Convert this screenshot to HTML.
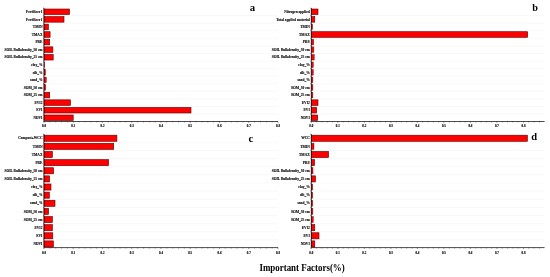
<!DOCTYPE html>
<html><head><meta charset="utf-8"><title>Important Factors</title>
<style>html,body{margin:0;padding:0;background:#fff}svg{display:block}text{font-family:"Liberation Serif",serif;font-weight:bold;fill:#000}</style></head>
<body>
<svg width="550" height="277" viewBox="0 0 550 277">
<rect width="550" height="277" fill="#fff"/>
<path d="M44.0 15.59H278.0M44.0 23.16H278.0M44.0 30.73H278.0M44.0 38.30H278.0M44.0 45.87H278.0M44.0 53.44H278.0M44.0 61.01H278.0M44.0 68.58H278.0M44.0 76.14H278.0M44.0 83.72H278.0M44.0 91.29H278.0M44.0 98.86H278.0M44.0 106.42H278.0M44.0 114.00H278.0" stroke="#f3f3f3" stroke-width="0.6" fill="none"/>
<rect x="44.0" y="9.00" width="25.6" height="5.6" fill="#ff0000" stroke="#5a0000" stroke-width="0.6"/>
<text x="42.5" y="13.00" font-size="3.56" text-anchor="end" stroke="#000" stroke-width="0.1">Fertilizer I</text>
<rect x="44.0" y="16.57" width="20.0" height="5.6" fill="#ff0000" stroke="#5a0000" stroke-width="0.6"/>
<text x="42.5" y="20.57" font-size="3.56" text-anchor="end" stroke="#000" stroke-width="0.1">Fertilizer I</text>
<rect x="44.0" y="24.14" width="4.4" height="5.6" fill="#ff0000" stroke="#5a0000" stroke-width="0.6"/>
<text x="42.5" y="28.14" font-size="3.56" text-anchor="end" stroke="#000" stroke-width="0.1">TMIN</text>
<rect x="44.0" y="31.71" width="6.1" height="5.6" fill="#ff0000" stroke="#5a0000" stroke-width="0.6"/>
<text x="42.5" y="35.71" font-size="3.56" text-anchor="end" stroke="#000" stroke-width="0.1">TMAX</text>
<rect x="44.0" y="39.28" width="5.7" height="5.6" fill="#ff0000" stroke="#5a0000" stroke-width="0.6"/>
<text x="42.5" y="43.28" font-size="3.56" text-anchor="end" stroke="#000" stroke-width="0.1">PRE</text>
<rect x="44.0" y="46.85" width="8.9" height="5.6" fill="#ff0000" stroke="#5a0000" stroke-width="0.6"/>
<text x="42.5" y="50.85" font-size="3.56" text-anchor="end" stroke="#000" stroke-width="0.1">SOIL Bulkdensity_50 cm</text>
<rect x="44.0" y="54.42" width="9.2" height="5.6" fill="#ff0000" stroke="#5a0000" stroke-width="0.6"/>
<text x="42.5" y="58.42" font-size="3.56" text-anchor="end" stroke="#000" stroke-width="0.1">SOIL Bulkdensity_25 cm</text>
<rect x="44.0" y="61.99" width="0.6" height="5.6" fill="#ff0000" stroke="#5a0000" stroke-width="0.4"/>
<text x="42.5" y="65.99" font-size="3.56" text-anchor="end" stroke="#000" stroke-width="0.1">clay_%</text>
<rect x="44.0" y="69.56" width="1.5" height="5.6" fill="#ff0000" stroke="#5a0000" stroke-width="0.4"/>
<text x="42.5" y="73.56" font-size="3.56" text-anchor="end" stroke="#000" stroke-width="0.1">silt_%</text>
<rect x="44.0" y="77.13" width="2.3" height="5.6" fill="#ff0000" stroke="#5a0000" stroke-width="0.4"/>
<text x="42.5" y="81.13" font-size="3.56" text-anchor="end" stroke="#000" stroke-width="0.1">sand_%</text>
<rect x="44.0" y="84.70" width="1.7" height="5.6" fill="#ff0000" stroke="#5a0000" stroke-width="0.4"/>
<text x="42.5" y="88.70" font-size="3.56" text-anchor="end" stroke="#000" stroke-width="0.1">SOM_50 cm</text>
<rect x="44.0" y="92.27" width="5.7" height="5.6" fill="#ff0000" stroke="#5a0000" stroke-width="0.6"/>
<text x="42.5" y="96.27" font-size="3.56" text-anchor="end" stroke="#000" stroke-width="0.1">SOM_25 cm</text>
<rect x="44.0" y="99.84" width="26.5" height="5.6" fill="#ff0000" stroke="#5a0000" stroke-width="0.6"/>
<text x="42.5" y="103.84" font-size="3.56" text-anchor="end" stroke="#000" stroke-width="0.1">EVI2</text>
<rect x="44.0" y="107.41" width="147.0" height="5.6" fill="#ff0000" stroke="#5a0000" stroke-width="0.6"/>
<text x="42.5" y="111.41" font-size="3.56" text-anchor="end" stroke="#000" stroke-width="0.1">EVI</text>
<rect x="44.0" y="114.98" width="29.2" height="5.6" fill="#ff0000" stroke="#5a0000" stroke-width="0.6"/>
<text x="42.5" y="118.98" font-size="3.56" text-anchor="end" stroke="#000" stroke-width="0.1">NDVI</text>
<path d="M44.0 8.0V121.5H278.0" stroke="#000" stroke-width="0.7" fill="none"/>
<path d="M44.00 121.5v1.3M49.85 121.5v0.9M55.70 121.5v0.9M61.55 121.5v0.9M67.40 121.5v0.9M73.25 121.5v1.3M79.10 121.5v0.9M84.95 121.5v0.9M90.80 121.5v0.9M96.65 121.5v0.9M102.50 121.5v1.3M108.35 121.5v0.9M114.20 121.5v0.9M120.05 121.5v0.9M125.90 121.5v0.9M131.75 121.5v1.3M137.60 121.5v0.9M143.45 121.5v0.9M149.30 121.5v0.9M155.15 121.5v0.9M161.00 121.5v1.3M166.85 121.5v0.9M172.70 121.5v0.9M178.55 121.5v0.9M184.40 121.5v0.9M190.25 121.5v1.3M196.10 121.5v0.9M201.95 121.5v0.9M207.80 121.5v0.9M213.65 121.5v0.9M219.50 121.5v1.3M225.35 121.5v0.9M231.20 121.5v0.9M237.05 121.5v0.9M242.90 121.5v0.9M248.75 121.5v1.3M254.60 121.5v0.9M260.45 121.5v0.9M266.30 121.5v0.9M272.15 121.5v0.9M278.00 121.5v1.3M44.0 8.02h-0.9M44.0 15.59h-0.9M44.0 23.16h-0.9M44.0 30.73h-0.9M44.0 38.30h-0.9M44.0 45.87h-0.9M44.0 53.44h-0.9M44.0 61.01h-0.9M44.0 68.58h-0.9M44.0 76.14h-0.9M44.0 83.72h-0.9M44.0 91.29h-0.9M44.0 98.86h-0.9M44.0 106.42h-0.9M44.0 114.00h-0.9M44.0 121.57h-0.9" stroke="#000" stroke-width="0.45" fill="none"/>
<text x="44.0" y="127.40" font-size="3.15" text-anchor="middle" stroke="#000" stroke-width="0.12">0.0</text>
<text x="73.2" y="127.40" font-size="3.15" text-anchor="middle" stroke="#000" stroke-width="0.12">0.1</text>
<text x="102.5" y="127.40" font-size="3.15" text-anchor="middle" stroke="#000" stroke-width="0.12">0.2</text>
<text x="131.8" y="127.40" font-size="3.15" text-anchor="middle" stroke="#000" stroke-width="0.12">0.3</text>
<text x="161.0" y="127.40" font-size="3.15" text-anchor="middle" stroke="#000" stroke-width="0.12">0.4</text>
<text x="190.2" y="127.40" font-size="3.15" text-anchor="middle" stroke="#000" stroke-width="0.12">0.5</text>
<text x="219.5" y="127.40" font-size="3.15" text-anchor="middle" stroke="#000" stroke-width="0.12">0.6</text>
<text x="248.8" y="127.40" font-size="3.15" text-anchor="middle" stroke="#000" stroke-width="0.12">0.7</text>
<text x="278.0" y="127.40" font-size="3.15" text-anchor="middle" stroke="#000" stroke-width="0.12">0.8</text>
<text x="249.8" y="11.4" font-size="10.8">a</text>
<path d="M311.3 15.59H544.6M311.3 23.16H544.6M311.3 30.73H544.6M311.3 38.30H544.6M311.3 45.87H544.6M311.3 53.44H544.6M311.3 61.01H544.6M311.3 68.58H544.6M311.3 76.14H544.6M311.3 83.72H544.6M311.3 91.29H544.6M311.3 98.86H544.6M311.3 106.42H544.6M311.3 114.00H544.6" stroke="#f3f3f3" stroke-width="0.6" fill="none"/>
<rect x="311.3" y="9.00" width="6.7" height="5.6" fill="#ff0000" stroke="#5a0000" stroke-width="0.6"/>
<text x="309.8" y="13.00" font-size="3.56" text-anchor="end" stroke="#000" stroke-width="0.1">Nitrogen applied</text>
<rect x="311.3" y="16.57" width="3.5" height="5.6" fill="#ff0000" stroke="#5a0000" stroke-width="0.6"/>
<text x="309.8" y="20.57" font-size="3.56" text-anchor="end" stroke="#000" stroke-width="0.1">Total applied material</text>
<rect x="311.3" y="24.14" width="1.3" height="5.6" fill="#ff0000" stroke="#5a0000" stroke-width="0.4"/>
<text x="309.8" y="28.14" font-size="3.56" text-anchor="end" stroke="#000" stroke-width="0.1">TMIN</text>
<rect x="311.3" y="31.71" width="216.4" height="5.6" fill="#ff0000" stroke="#5a0000" stroke-width="0.6"/>
<text x="309.8" y="35.71" font-size="3.56" text-anchor="end" stroke="#000" stroke-width="0.1">TMAX</text>
<rect x="311.3" y="39.28" width="2.4" height="5.6" fill="#ff0000" stroke="#5a0000" stroke-width="0.4"/>
<text x="309.8" y="43.28" font-size="3.56" text-anchor="end" stroke="#000" stroke-width="0.1">PRE</text>
<rect x="311.3" y="46.85" width="2.6" height="5.6" fill="#ff0000" stroke="#5a0000" stroke-width="0.4"/>
<text x="309.8" y="50.85" font-size="3.56" text-anchor="end" stroke="#000" stroke-width="0.1">SOIL Bulkdensity_50 cm</text>
<rect x="311.3" y="54.42" width="2.9" height="5.6" fill="#ff0000" stroke="#5a0000" stroke-width="0.4"/>
<text x="309.8" y="58.42" font-size="3.56" text-anchor="end" stroke="#000" stroke-width="0.1">SOIL Bulkdensity_25 cm</text>
<rect x="311.3" y="61.99" width="2.0" height="5.6" fill="#ff0000" stroke="#5a0000" stroke-width="0.4"/>
<text x="309.8" y="65.99" font-size="3.56" text-anchor="end" stroke="#000" stroke-width="0.1">clay_%</text>
<rect x="311.3" y="69.56" width="2.0" height="5.6" fill="#ff0000" stroke="#5a0000" stroke-width="0.4"/>
<text x="309.8" y="73.56" font-size="3.56" text-anchor="end" stroke="#000" stroke-width="0.1">silt_%</text>
<rect x="311.3" y="77.13" width="1.6" height="5.6" fill="#ff0000" stroke="#5a0000" stroke-width="0.4"/>
<text x="309.8" y="81.13" font-size="3.56" text-anchor="end" stroke="#000" stroke-width="0.1">sand_%</text>
<rect x="311.3" y="84.70" width="1.6" height="5.6" fill="#ff0000" stroke="#5a0000" stroke-width="0.4"/>
<text x="309.8" y="88.70" font-size="3.56" text-anchor="end" stroke="#000" stroke-width="0.1">SOM_50 cm</text>
<rect x="311.3" y="92.27" width="1.6" height="5.6" fill="#ff0000" stroke="#5a0000" stroke-width="0.4"/>
<text x="309.8" y="96.27" font-size="3.56" text-anchor="end" stroke="#000" stroke-width="0.1">SOM_25 cm</text>
<rect x="311.3" y="99.84" width="6.7" height="5.6" fill="#ff0000" stroke="#5a0000" stroke-width="0.6"/>
<text x="309.8" y="103.84" font-size="3.56" text-anchor="end" stroke="#000" stroke-width="0.1">EVI2</text>
<rect x="311.3" y="107.41" width="5.4" height="5.6" fill="#ff0000" stroke="#5a0000" stroke-width="0.6"/>
<text x="309.8" y="111.41" font-size="3.56" text-anchor="end" stroke="#000" stroke-width="0.1">EVI</text>
<rect x="311.3" y="114.98" width="6.4" height="5.6" fill="#ff0000" stroke="#5a0000" stroke-width="0.6"/>
<text x="309.8" y="118.98" font-size="3.56" text-anchor="end" stroke="#000" stroke-width="0.1">NDVI</text>
<path d="M311.3 8.0V121.5H544.6" stroke="#000" stroke-width="0.7" fill="none"/>
<path d="M311.30 121.5v1.3M316.60 121.5v0.9M321.91 121.5v0.9M327.21 121.5v0.9M332.52 121.5v0.9M337.82 121.5v1.3M343.12 121.5v0.9M348.43 121.5v0.9M353.73 121.5v0.9M359.04 121.5v0.9M364.34 121.5v1.3M369.64 121.5v0.9M374.95 121.5v0.9M380.25 121.5v0.9M385.56 121.5v0.9M390.86 121.5v1.3M396.16 121.5v0.9M401.47 121.5v0.9M406.77 121.5v0.9M412.08 121.5v0.9M417.38 121.5v1.3M422.68 121.5v0.9M427.99 121.5v0.9M433.29 121.5v0.9M438.60 121.5v0.9M443.90 121.5v1.3M449.20 121.5v0.9M454.51 121.5v0.9M459.81 121.5v0.9M465.12 121.5v0.9M470.42 121.5v1.3M475.72 121.5v0.9M481.03 121.5v0.9M486.33 121.5v0.9M491.64 121.5v0.9M496.94 121.5v1.3M502.24 121.5v0.9M507.55 121.5v0.9M512.85 121.5v0.9M518.16 121.5v0.9M523.46 121.5v1.3M528.76 121.5v0.9M534.07 121.5v0.9M539.37 121.5v0.9M311.3 8.02h-0.9M311.3 15.59h-0.9M311.3 23.16h-0.9M311.3 30.73h-0.9M311.3 38.30h-0.9M311.3 45.87h-0.9M311.3 53.44h-0.9M311.3 61.01h-0.9M311.3 68.58h-0.9M311.3 76.14h-0.9M311.3 83.72h-0.9M311.3 91.29h-0.9M311.3 98.86h-0.9M311.3 106.42h-0.9M311.3 114.00h-0.9M311.3 121.57h-0.9" stroke="#000" stroke-width="0.45" fill="none"/>
<text x="311.3" y="127.40" font-size="3.15" text-anchor="middle" stroke="#000" stroke-width="0.12">0.0</text>
<text x="337.8" y="127.40" font-size="3.15" text-anchor="middle" stroke="#000" stroke-width="0.12">0.1</text>
<text x="364.3" y="127.40" font-size="3.15" text-anchor="middle" stroke="#000" stroke-width="0.12">0.2</text>
<text x="390.9" y="127.40" font-size="3.15" text-anchor="middle" stroke="#000" stroke-width="0.12">0.3</text>
<text x="417.4" y="127.40" font-size="3.15" text-anchor="middle" stroke="#000" stroke-width="0.12">0.4</text>
<text x="443.9" y="127.40" font-size="3.15" text-anchor="middle" stroke="#000" stroke-width="0.12">0.5</text>
<text x="470.4" y="127.40" font-size="3.15" text-anchor="middle" stroke="#000" stroke-width="0.12">0.6</text>
<text x="496.9" y="127.40" font-size="3.15" text-anchor="middle" stroke="#000" stroke-width="0.12">0.7</text>
<text x="523.5" y="127.40" font-size="3.15" text-anchor="middle" stroke="#000" stroke-width="0.12">0.8</text>
<text x="532.2" y="11.2" font-size="10.2">b</text>
<path d="M44.0 142.31H278.0M44.0 150.44H278.0M44.0 158.57H278.0M44.0 166.71H278.0M44.0 174.84H278.0M44.0 182.97H278.0M44.0 191.09H278.0M44.0 199.23H278.0M44.0 207.36H278.0M44.0 215.49H278.0M44.0 223.62H278.0M44.0 231.75H278.0M44.0 239.88H278.0" stroke="#f3f3f3" stroke-width="0.6" fill="none"/>
<rect x="44.0" y="135.20" width="72.9" height="6.1" fill="#ff0000" stroke="#5a0000" stroke-width="0.6"/>
<text x="42.5" y="139.45" font-size="3.56" text-anchor="end" stroke="#000" stroke-width="0.1">Compost+WCC</text>
<rect x="44.0" y="143.33" width="69.7" height="6.1" fill="#ff0000" stroke="#5a0000" stroke-width="0.6"/>
<text x="42.5" y="147.58" font-size="3.56" text-anchor="end" stroke="#000" stroke-width="0.1">TMIN</text>
<rect x="44.0" y="151.46" width="8.4" height="6.1" fill="#ff0000" stroke="#5a0000" stroke-width="0.6"/>
<text x="42.5" y="155.71" font-size="3.56" text-anchor="end" stroke="#000" stroke-width="0.1">TMAX</text>
<rect x="44.0" y="159.59" width="64.6" height="6.1" fill="#ff0000" stroke="#5a0000" stroke-width="0.6"/>
<text x="42.5" y="163.84" font-size="3.56" text-anchor="end" stroke="#000" stroke-width="0.1">PRE</text>
<rect x="44.0" y="167.72" width="9.6" height="6.1" fill="#ff0000" stroke="#5a0000" stroke-width="0.6"/>
<text x="42.5" y="171.97" font-size="3.56" text-anchor="end" stroke="#000" stroke-width="0.1">SOIL Bulkdensity_50 cm</text>
<rect x="44.0" y="175.85" width="5.6" height="6.1" fill="#ff0000" stroke="#5a0000" stroke-width="0.6"/>
<text x="42.5" y="180.10" font-size="3.56" text-anchor="end" stroke="#000" stroke-width="0.1">SOIL Bulkdensity_25 cm</text>
<rect x="44.0" y="183.98" width="7.0" height="6.1" fill="#ff0000" stroke="#5a0000" stroke-width="0.6"/>
<text x="42.5" y="188.23" font-size="3.56" text-anchor="end" stroke="#000" stroke-width="0.1">clay_%</text>
<rect x="44.0" y="192.11" width="5.4" height="6.1" fill="#ff0000" stroke="#5a0000" stroke-width="0.6"/>
<text x="42.5" y="196.36" font-size="3.56" text-anchor="end" stroke="#000" stroke-width="0.1">silt_%</text>
<rect x="44.0" y="200.24" width="11.0" height="6.1" fill="#ff0000" stroke="#5a0000" stroke-width="0.6"/>
<text x="42.5" y="204.49" font-size="3.56" text-anchor="end" stroke="#000" stroke-width="0.1">sand_%</text>
<rect x="44.0" y="208.37" width="4.6" height="6.1" fill="#ff0000" stroke="#5a0000" stroke-width="0.6"/>
<text x="42.5" y="212.62" font-size="3.56" text-anchor="end" stroke="#000" stroke-width="0.1">SOM_50 cm</text>
<rect x="44.0" y="216.50" width="8.4" height="6.1" fill="#ff0000" stroke="#5a0000" stroke-width="0.6"/>
<text x="42.5" y="220.75" font-size="3.56" text-anchor="end" stroke="#000" stroke-width="0.1">SOM_25 cm</text>
<rect x="44.0" y="224.63" width="8.4" height="6.1" fill="#ff0000" stroke="#5a0000" stroke-width="0.6"/>
<text x="42.5" y="228.88" font-size="3.56" text-anchor="end" stroke="#000" stroke-width="0.1">EVI2</text>
<rect x="44.0" y="232.76" width="8.8" height="6.1" fill="#ff0000" stroke="#5a0000" stroke-width="0.6"/>
<text x="42.5" y="237.01" font-size="3.56" text-anchor="end" stroke="#000" stroke-width="0.1">EVI</text>
<rect x="44.0" y="240.89" width="9.4" height="6.1" fill="#ff0000" stroke="#5a0000" stroke-width="0.6"/>
<text x="42.5" y="245.14" font-size="3.56" text-anchor="end" stroke="#000" stroke-width="0.1">NDVI</text>
<path d="M44.0 134.0V247.6H278.0" stroke="#000" stroke-width="0.7" fill="none"/>
<path d="M44.00 247.6v1.3M49.85 247.6v0.9M55.70 247.6v0.9M61.55 247.6v0.9M67.40 247.6v0.9M73.25 247.6v1.3M79.10 247.6v0.9M84.95 247.6v0.9M90.80 247.6v0.9M96.65 247.6v0.9M102.50 247.6v1.3M108.35 247.6v0.9M114.20 247.6v0.9M120.05 247.6v0.9M125.90 247.6v0.9M131.75 247.6v1.3M137.60 247.6v0.9M143.45 247.6v0.9M149.30 247.6v0.9M155.15 247.6v0.9M161.00 247.6v1.3M166.85 247.6v0.9M172.70 247.6v0.9M178.55 247.6v0.9M184.40 247.6v0.9M190.25 247.6v1.3M196.10 247.6v0.9M201.95 247.6v0.9M207.80 247.6v0.9M213.65 247.6v0.9M219.50 247.6v1.3M225.35 247.6v0.9M231.20 247.6v0.9M237.05 247.6v0.9M242.90 247.6v0.9M248.75 247.6v1.3M254.60 247.6v0.9M260.45 247.6v0.9M266.30 247.6v0.9M272.15 247.6v0.9M278.00 247.6v1.3M44.0 134.19h-0.9M44.0 142.31h-0.9M44.0 150.44h-0.9M44.0 158.57h-0.9M44.0 166.71h-0.9M44.0 174.84h-0.9M44.0 182.97h-0.9M44.0 191.09h-0.9M44.0 199.23h-0.9M44.0 207.36h-0.9M44.0 215.49h-0.9M44.0 223.62h-0.9M44.0 231.75h-0.9M44.0 239.88h-0.9M44.0 248.00h-0.9" stroke="#000" stroke-width="0.45" fill="none"/>
<text x="44.0" y="253.50" font-size="3.15" text-anchor="middle" stroke="#000" stroke-width="0.12">0.0</text>
<text x="73.2" y="253.50" font-size="3.15" text-anchor="middle" stroke="#000" stroke-width="0.12">0.1</text>
<text x="102.5" y="253.50" font-size="3.15" text-anchor="middle" stroke="#000" stroke-width="0.12">0.2</text>
<text x="131.8" y="253.50" font-size="3.15" text-anchor="middle" stroke="#000" stroke-width="0.12">0.3</text>
<text x="161.0" y="253.50" font-size="3.15" text-anchor="middle" stroke="#000" stroke-width="0.12">0.4</text>
<text x="190.2" y="253.50" font-size="3.15" text-anchor="middle" stroke="#000" stroke-width="0.12">0.5</text>
<text x="219.5" y="253.50" font-size="3.15" text-anchor="middle" stroke="#000" stroke-width="0.12">0.6</text>
<text x="248.8" y="253.50" font-size="3.15" text-anchor="middle" stroke="#000" stroke-width="0.12">0.7</text>
<text x="278.0" y="253.50" font-size="3.15" text-anchor="middle" stroke="#000" stroke-width="0.12">0.8</text>
<text x="248.5" y="142.2" font-size="10.8">c</text>
<path d="M311.3 142.31H544.6M311.3 150.44H544.6M311.3 158.57H544.6M311.3 166.71H544.6M311.3 174.84H544.6M311.3 182.97H544.6M311.3 191.09H544.6M311.3 199.23H544.6M311.3 207.36H544.6M311.3 215.49H544.6M311.3 223.62H544.6M311.3 231.75H544.6M311.3 239.88H544.6" stroke="#f3f3f3" stroke-width="0.6" fill="none"/>
<rect x="311.3" y="135.20" width="216.1" height="6.1" fill="#ff0000" stroke="#5a0000" stroke-width="0.6"/>
<text x="309.8" y="139.45" font-size="3.56" text-anchor="end" stroke="#000" stroke-width="0.1">WCC</text>
<rect x="311.3" y="143.33" width="2.7" height="6.1" fill="#ff0000" stroke="#5a0000" stroke-width="0.4"/>
<text x="309.8" y="147.58" font-size="3.56" text-anchor="end" stroke="#000" stroke-width="0.1">TMIN</text>
<rect x="311.3" y="151.46" width="17.3" height="6.1" fill="#ff0000" stroke="#5a0000" stroke-width="0.6"/>
<text x="309.8" y="155.71" font-size="3.56" text-anchor="end" stroke="#000" stroke-width="0.1">TMAX</text>
<rect x="311.3" y="159.59" width="3.3" height="6.1" fill="#ff0000" stroke="#5a0000" stroke-width="0.6"/>
<text x="309.8" y="163.84" font-size="3.56" text-anchor="end" stroke="#000" stroke-width="0.1">PRE</text>
<rect x="311.3" y="167.72" width="1.7" height="6.1" fill="#ff0000" stroke="#5a0000" stroke-width="0.4"/>
<text x="309.8" y="171.97" font-size="3.56" text-anchor="end" stroke="#000" stroke-width="0.1">SOIL Bulkdensity_50 cm</text>
<rect x="311.3" y="175.85" width="4.2" height="6.1" fill="#ff0000" stroke="#5a0000" stroke-width="0.6"/>
<text x="309.8" y="180.10" font-size="3.56" text-anchor="end" stroke="#000" stroke-width="0.1">SOIL Bulkdensity_25 cm</text>
<rect x="311.3" y="183.98" width="1.4" height="6.1" fill="#ff0000" stroke="#5a0000" stroke-width="0.4"/>
<text x="309.8" y="188.23" font-size="3.56" text-anchor="end" stroke="#000" stroke-width="0.1">clay_%</text>
<rect x="311.3" y="192.11" width="1.4" height="6.1" fill="#ff0000" stroke="#5a0000" stroke-width="0.4"/>
<text x="309.8" y="196.36" font-size="3.56" text-anchor="end" stroke="#000" stroke-width="0.1">silt_%</text>
<rect x="311.3" y="200.24" width="1.4" height="6.1" fill="#ff0000" stroke="#5a0000" stroke-width="0.4"/>
<text x="309.8" y="204.49" font-size="3.56" text-anchor="end" stroke="#000" stroke-width="0.1">sand_%</text>
<rect x="311.3" y="208.37" width="1.6" height="6.1" fill="#ff0000" stroke="#5a0000" stroke-width="0.4"/>
<text x="309.8" y="212.62" font-size="3.56" text-anchor="end" stroke="#000" stroke-width="0.1">SOM_50 cm</text>
<rect x="311.3" y="216.50" width="2.0" height="6.1" fill="#ff0000" stroke="#5a0000" stroke-width="0.4"/>
<text x="309.8" y="220.75" font-size="3.56" text-anchor="end" stroke="#000" stroke-width="0.1">SOM_25 cm</text>
<rect x="311.3" y="224.63" width="3.5" height="6.1" fill="#ff0000" stroke="#5a0000" stroke-width="0.6"/>
<text x="309.8" y="228.88" font-size="3.56" text-anchor="end" stroke="#000" stroke-width="0.1">EVI2</text>
<rect x="311.3" y="232.76" width="7.7" height="6.1" fill="#ff0000" stroke="#5a0000" stroke-width="0.6"/>
<text x="309.8" y="237.01" font-size="3.56" text-anchor="end" stroke="#000" stroke-width="0.1">EVI</text>
<rect x="311.3" y="240.89" width="3.5" height="6.1" fill="#ff0000" stroke="#5a0000" stroke-width="0.6"/>
<text x="309.8" y="245.14" font-size="3.56" text-anchor="end" stroke="#000" stroke-width="0.1">NDVI</text>
<path d="M311.3 134.0V247.6H544.6" stroke="#000" stroke-width="0.7" fill="none"/>
<path d="M311.30 247.6v1.3M316.60 247.6v0.9M321.91 247.6v0.9M327.21 247.6v0.9M332.52 247.6v0.9M337.82 247.6v1.3M343.12 247.6v0.9M348.43 247.6v0.9M353.73 247.6v0.9M359.04 247.6v0.9M364.34 247.6v1.3M369.64 247.6v0.9M374.95 247.6v0.9M380.25 247.6v0.9M385.56 247.6v0.9M390.86 247.6v1.3M396.16 247.6v0.9M401.47 247.6v0.9M406.77 247.6v0.9M412.08 247.6v0.9M417.38 247.6v1.3M422.68 247.6v0.9M427.99 247.6v0.9M433.29 247.6v0.9M438.60 247.6v0.9M443.90 247.6v1.3M449.20 247.6v0.9M454.51 247.6v0.9M459.81 247.6v0.9M465.12 247.6v0.9M470.42 247.6v1.3M475.72 247.6v0.9M481.03 247.6v0.9M486.33 247.6v0.9M491.64 247.6v0.9M496.94 247.6v1.3M502.24 247.6v0.9M507.55 247.6v0.9M512.85 247.6v0.9M518.16 247.6v0.9M523.46 247.6v1.3M528.76 247.6v0.9M534.07 247.6v0.9M539.37 247.6v0.9M311.3 134.19h-0.9M311.3 142.31h-0.9M311.3 150.44h-0.9M311.3 158.57h-0.9M311.3 166.71h-0.9M311.3 174.84h-0.9M311.3 182.97h-0.9M311.3 191.09h-0.9M311.3 199.23h-0.9M311.3 207.36h-0.9M311.3 215.49h-0.9M311.3 223.62h-0.9M311.3 231.75h-0.9M311.3 239.88h-0.9M311.3 248.00h-0.9" stroke="#000" stroke-width="0.45" fill="none"/>
<text x="311.3" y="253.50" font-size="3.15" text-anchor="middle" stroke="#000" stroke-width="0.12">0.0</text>
<text x="337.8" y="253.50" font-size="3.15" text-anchor="middle" stroke="#000" stroke-width="0.12">0.1</text>
<text x="364.3" y="253.50" font-size="3.15" text-anchor="middle" stroke="#000" stroke-width="0.12">0.2</text>
<text x="390.9" y="253.50" font-size="3.15" text-anchor="middle" stroke="#000" stroke-width="0.12">0.3</text>
<text x="417.4" y="253.50" font-size="3.15" text-anchor="middle" stroke="#000" stroke-width="0.12">0.4</text>
<text x="443.9" y="253.50" font-size="3.15" text-anchor="middle" stroke="#000" stroke-width="0.12">0.5</text>
<text x="470.4" y="253.50" font-size="3.15" text-anchor="middle" stroke="#000" stroke-width="0.12">0.6</text>
<text x="496.9" y="253.50" font-size="3.15" text-anchor="middle" stroke="#000" stroke-width="0.12">0.7</text>
<text x="523.5" y="253.50" font-size="3.15" text-anchor="middle" stroke="#000" stroke-width="0.12">0.8</text>
<text x="531.2" y="139.7" font-size="10.5">d</text>
<text x="259.5" y="270.7" font-size="9.6" textLength="85.2" lengthAdjust="spacingAndGlyphs">Important Factors(%)</text>
</svg>
</body></html>
